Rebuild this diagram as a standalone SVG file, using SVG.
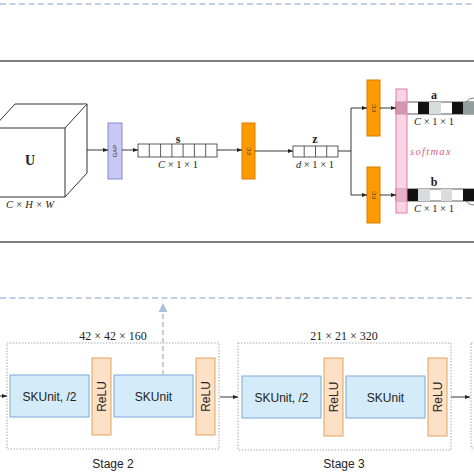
<svg xmlns="http://www.w3.org/2000/svg" width="474" height="474" viewBox="0 0 474 474">
<style>
.frame{stroke:#555;stroke-width:1.5;fill:none}
.dash{stroke:#aec0de;stroke-width:1.5;stroke-dasharray:6,3.5;fill:none}
.edge{stroke:#222;stroke-width:0.9;fill:none}
.cube{stroke:#333;stroke-width:1;fill:#fff}
.gap{fill:#c8c8f4;stroke:#8a8ad0;stroke-width:1}
.fc{fill:#ff9a00;stroke:#d87c00;stroke-width:1}
.cell{stroke:#333;stroke-width:0.8;fill:#fff}
.serif{font-family:"Liberation Serif","DejaVu Serif",serif;fill:#222}
.it{font-style:italic}
.bold{font-weight:bold}
.sans{font-family:"Liberation Sans",Arial,sans-serif;fill:#222}
.sk{fill:#d4ecfa;stroke:#7ea8d6;stroke-width:1}
.relu{fill:#fde0c6;stroke:#e0a35c;stroke-width:1}
.stage{fill:none;stroke:#aaa;stroke-width:1;stroke-dasharray:1.5,1.5}
.tiny{font-family:"Liberation Sans",Arial,sans-serif;font-size:6px;fill:#333}
</style>
<defs>
<marker id="ah" markerWidth="6" markerHeight="6" refX="5" refY="3" orient="auto" markerUnits="userSpaceOnUse">
<path d="M0,1 L5,3 L0,5 z" fill="#222"/>
</marker>
</defs>

<line class="dash" x1="0" y1="4" x2="474" y2="4"/>
<line class="dash" x1="0" y1="298" x2="474" y2="298"/>
<line class="frame" x1="0" y1="61" x2="474" y2="61"/>
<line class="frame" x1="0" y1="242" x2="474" y2="242"/>

<g id="cube">
<path class="cube" d="M-7,128 L15,104 L87,104 L87,173 L65,197 L-7,197 z"/>
<path class="cube" d="M-7,128 L65,128 L87,104 M65,128 L65,197"/>
<text class="serif bold" x="30" y="165" font-size="14" text-anchor="middle">U</text>
<text class="serif it" x="30" y="208" font-size="10.5" text-anchor="middle">C × H × W</text>
</g>

<g id="gap">
<rect class="gap" x="108" y="123" width="14" height="56"/>
<text class="tiny" transform="translate(117.2,151) rotate(-90)" text-anchor="middle">GAP</text>
</g>

<g id="s">
<rect class="cell" x="138" y="144" width="79" height="13"/>
<path class="cell" d="M149.3,144 V157 M160.6,144 V157 M171.9,144 V157 M183.1,144 V157 M194.4,144 V157 M205.7,144 V157"/>
<text class="serif bold" x="178" y="143" font-size="12" text-anchor="middle">s</text>
<text class="serif" x="178" y="168" font-size="10.5" text-anchor="middle"><tspan class="it">C</tspan> × 1 × 1</text>
</g>

<g id="fc1">
<rect class="fc" x="242" y="123" width="13" height="56"/>
<text class="tiny" transform="translate(250.7,151) rotate(-90)" text-anchor="middle">FC</text>
</g>

<g id="z">
<rect class="cell" x="293" y="146" width="45" height="11"/>
<path class="cell" d="M304.2,146 V157 M315.5,146 V157 M326.7,146 V157"/>
<text class="serif bold" x="315" y="143" font-size="12" text-anchor="middle">z</text>
<text class="serif" x="315" y="168" font-size="10.5" text-anchor="middle"><tspan class="it">d</tspan> × 1 × 1</text>
</g>

<g id="fc2">
<rect class="fc" x="367" y="80" width="13" height="56"/>
<text class="tiny" transform="translate(375.7,108) rotate(-90)" text-anchor="middle">FC</text>
</g>
<g id="fc3">
<rect class="fc" x="367" y="167" width="13" height="56"/>
<text class="tiny" transform="translate(375.7,195) rotate(-90)" text-anchor="middle">FC</text>
</g>

<g id="a">
<rect x="396" y="102" width="80" height="12" fill="#fff" stroke="#333" stroke-width="0.8"/>
<rect x="396" y="102" width="11" height="12" fill="#9a6a7c"/>
<rect x="418" y="102" width="11" height="12" fill="#111"/>
<rect x="429" y="102" width="12" height="12" fill="#d8dcdc"/>
<rect x="452" y="102" width="11" height="12" fill="#111"/>
<rect x="463" y="102" width="13" height="12" fill="#949e9c"/>
<path d="M466,102 Q469,98 474,98" stroke="#555" stroke-width="0.8" fill="none"/>
<text class="serif bold" x="434" y="99" font-size="12" text-anchor="middle">a</text>
<text class="serif" x="434" y="125" font-size="10.5" text-anchor="middle"><tspan class="it">C</tspan> × 1 × 1</text>
</g>

<g id="b">
<rect x="396" y="189" width="80" height="12" fill="#fff" stroke="#333" stroke-width="0.8"/>
<rect x="396" y="189" width="11" height="12" fill="#d4a8bc"/>
<rect x="407" y="189" width="11" height="12" fill="#111"/>
<rect x="418" y="189" width="12" height="12" fill="#d8dcdc"/>
<rect x="441" y="189" width="11" height="12" fill="#d8dcdc"/>
<rect x="463" y="189" width="13" height="12" fill="#111"/>
<path d="M466,201 Q469,205 474,205" stroke="#555" stroke-width="0.8" fill="none"/>
<text class="serif bold" x="434" y="186" font-size="12" text-anchor="middle">b</text>
<text class="serif" x="434" y="212" font-size="10.5" text-anchor="middle"><tspan class="it">C</tspan> × 1 × 1</text>
</g>

<g id="softmax">
<rect x="396" y="89" width="11" height="124" fill="#f7b6d2" fill-opacity="0.6" stroke="#e07ca6" stroke-width="1"/>
<text class="serif it" x="431" y="155" font-size="10.5" text-anchor="middle" letter-spacing="1.3" style="fill:#d8608a">softmax</text>
</g>

<g id="stage2">
<rect class="stage" x="7" y="343" width="212" height="106"/>
<text class="serif" x="113" y="340" font-size="12" text-anchor="middle">42 × 42 × 160</text>
<rect class="sk" x="10" y="375" width="79" height="42"/>
<text class="sans" x="49.5" y="400.5" font-size="12" text-anchor="middle">SKUnit, /2</text>
<rect class="relu" x="92" y="358" width="19" height="77"/>
<text class="sans" transform="translate(105.8,396.5) rotate(-90)" font-size="12" text-anchor="middle">ReLU</text>
<rect class="sk" x="114" y="375" width="79" height="42"/>
<text class="sans" x="153.5" y="400.5" font-size="12" text-anchor="middle">SKUnit</text>
<rect class="relu" x="196" y="358" width="19" height="77"/>
<text class="sans" transform="translate(209.8,396.5) rotate(-90)" font-size="12" text-anchor="middle">ReLU</text>
<text class="sans" x="113" y="467.5" font-size="12" text-anchor="middle">Stage 2</text>
</g>

<g id="stage3">
<rect class="stage" x="238" y="343" width="213" height="107"/>
<text class="serif" x="344" y="340" font-size="12" text-anchor="middle">21 × 21 × 320</text>
<rect class="sk" x="242" y="376" width="79" height="42"/>
<text class="sans" x="281.5" y="401.5" font-size="12" text-anchor="middle">SKUnit, /2</text>
<rect class="relu" x="324" y="358" width="19" height="78"/>
<text class="sans" transform="translate(337.8,397) rotate(-90)" font-size="12" text-anchor="middle">ReLU</text>
<rect class="sk" x="346" y="376" width="79" height="42"/>
<text class="sans" x="385.5" y="401.5" font-size="12" text-anchor="middle">SKUnit</text>
<rect class="relu" x="428" y="358" width="19" height="78"/>
<text class="sans" transform="translate(441.8,397) rotate(-90)" font-size="12" text-anchor="middle">ReLU</text>
<text class="sans" x="344" y="467.5" font-size="12" text-anchor="middle">Stage 3</text>
</g>

<g id="stage4">
<rect class="stage" x="471" y="343" width="10" height="105"/>
</g>

<g id="connectors">
<line class="edge" x1="87" y1="150" x2="108" y2="150" marker-end="url(#ah)"/>
<line class="edge" x1="122" y1="150" x2="138" y2="150" marker-end="url(#ah)"/>
<line class="edge" x1="217" y1="150" x2="242" y2="150" marker-end="url(#ah)"/>
<line class="edge" x1="255" y1="151" x2="293" y2="151" marker-end="url(#ah)"/>
<path class="edge" d="M338,151 H351 M351,108 V195"/>
<line class="edge" x1="351" y1="108" x2="367" y2="108" marker-end="url(#ah)"/>
<line class="edge" x1="351" y1="195" x2="367" y2="195" marker-end="url(#ah)"/>
<line class="edge" x1="380" y1="108" x2="396" y2="108" marker-end="url(#ah)"/>
<line class="edge" x1="380" y1="195" x2="396" y2="195" marker-end="url(#ah)"/>
<line class="edge" x1="0" y1="396" x2="7" y2="396" marker-end="url(#ah)"/>
<line class="edge" x1="220" y1="397" x2="238" y2="397" marker-end="url(#ah)"/>
<line class="edge" x1="451" y1="397" x2="470" y2="397" marker-end="url(#ah)"/>
<line x1="163" y1="375" x2="163" y2="312" stroke="#aec0de" stroke-width="1.5" stroke-dasharray="5,3"/>
<path d="M158.5,312 L163,303 L167.5,312 z" fill="#aec0de"/>
</g>
</svg>
